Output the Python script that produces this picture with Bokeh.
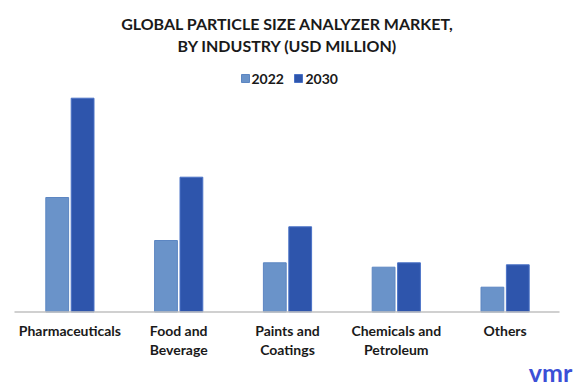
from bokeh.plotting import figure
from bokeh.models import ColumnDataSource, Range1d
from bokeh.core.properties import value
from bokeh.embed import file_html
from bokeh.resources import INLINE

categories = ["Pharmaceuticals", "Food and\nBeverage", "Paints and\nCoatings", "Chemicals and\nPetroleum", "Others"]
series_names = ["2022", "2030"]
values_2022 = [114.5, 71.5, 49.2, 44.8, 24.8]
values_2030 = [213.8, 134.8, 85.2, 49.2, 47.2]
title_lines = ["GLOBAL PARTICLE SIZE ANALYZER MARKET,", "BY INDUSTRY (USD MILLION)"]

C2022 = "#6a93c9"
C2030 = "#2e55ac"
FONT = "Lato"

W, H = 574, 392
U = 108.8      # pixels per category
X0 = 15        # page x of category-axis start
BASE = 311.5   # page y of the baseline


def ux(px):
    return (px - X0) / U


def uy(py):
    return BASE - py


p = figure(width=W, height=H, output_backend="svg", toolbar_location=None,
           min_border=0, min_border_left=0, min_border_right=0,
           min_border_top=0, min_border_bottom=0,
           x_range=Range1d(ux(0), ux(W)),
           y_range=Range1d(uy(H), uy(0)))
p.axis.visible = False
p.grid.visible = False
p.outline_line_color = None
p.background_fill_color = "white"
p.border_fill_color = "white"

n = len(categories)
centers = [i + 0.5 for i in range(n)]
off = 12.7 / U
bw = 22.8 / U

src = ColumnDataSource(dict(
    x1=[c - off for c in centers], x2=[c + off for c in centers],
    v1=values_2022, v2=values_2030))
p.vbar(x="x1", top="v1", bottom=0, width=bw, source=src,
       fill_color=C2022, line_color="#5c86c2", line_width=1)
p.vbar(x="x2", top="v2", bottom=0, width=bw, source=src,
       fill_color=C2030, line_color="#4a72c6", line_width=1)

# baseline
p.segment(x0=[ux(14)], y0=[0], x1=[ux(559)], y1=[0],
          line_color="#c0c0c0", line_width=1.5)

# category labels
l1 = [c.split("\n")[0] for c in categories]
l2 = [c.split("\n")[1] if "\n" in c else "" for c in categories]
p.text(x=centers, y=[uy(330)] * n, text=l1, text_align="center", text_baseline="middle",
       text_font=value(FONT), text_font_style="bold", text_font_size="14px", text_color="#1a1a1a")
p.text(x=centers, y=[uy(349)] * n, text=l2, text_align="center", text_baseline="middle",
       text_font=value(FONT), text_font_style="bold", text_font_size="14px", text_color="#1a1a1a")

# title
p.text(x=[ux(287), ux(287)], y=[uy(23), uy(45)], text=title_lines, text_align="center",
       text_baseline="middle", text_font=value(FONT), text_font_style="bold",
       text_font_size="16px", text_color="#1a1a1a")

# legend
p.scatter(x=[ux(245), ux(298)], y=[uy(78), uy(78)], marker="square", size=8,
          fill_color=[C2022, C2030], line_color=["#5c86c2", "#4a72c6"])
p.text(x=[ux(251), ux(305)], y=[uy(78), uy(78)], text=series_names,
       text_align="left", text_baseline="middle",
       text_font=value(FONT), text_font_style="bold", text_font_size="14px", text_color="#1a1a1a")

# logo
p.text(x=[ux(550)], y=[uy(371)], text=["vmr"], text_align="center", text_baseline="middle",
       text_font=value(FONT), text_font_style="bold", text_font_size="25px", text_color="#3b4fd6")

open("out.html", "w").write(file_html(p, INLINE))
